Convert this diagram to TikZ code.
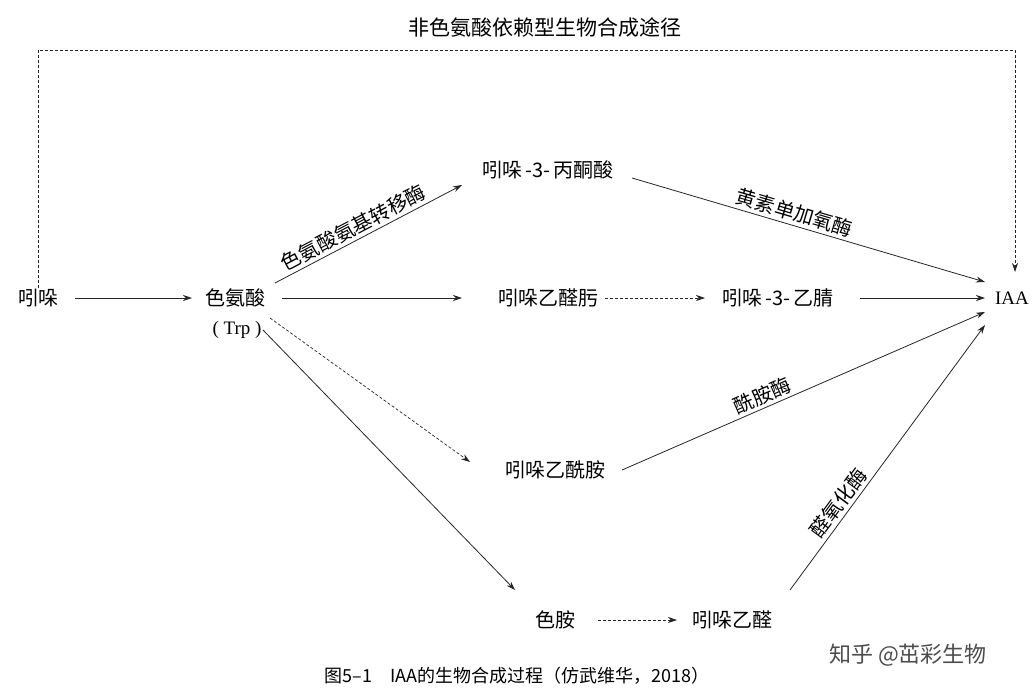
\documentclass[tikz,border=0pt]{standalone}
\usepackage{fontspec}
\setmainfont{Liberation Serif}
\newfontfamily\cjk{Noto Sans CJK SC}
\usetikzlibrary{arrows.meta}
\begin{document}
\begin{tikzpicture}[x=1pt,y=-1pt,
  lbl/.style={font=\cjk\fontsize{20}{20}\selectfont,inner sep=1pt},
  arr/.style={draw=black!85,line width=0.8pt,-{Stealth[length=9pt,width=6pt]}},
  darr/.style={arr,densely dashed,line width=0.7pt}]
\useasboundingbox (0,0) rectangle (1035,696);
\fill[white] (0,0) rectangle (1035,696);
\node[lbl,font=\cjk\fontsize{21}{21}\selectfont] (title) at (545,27) {非色氨酸依赖型生物合成途径};
\node[lbl] (ind) at (38,298) {吲哚};
\node[lbl] (trp) at (235,298) {色氨酸};
\node[font=\fontsize{19}{19}\selectfont] (trpl) at (237,330) {( Trp )};
\node[lbl] (ipa) at (548,170) {吲哚\,-3-\,丙酮酸};
\node[lbl] (iao) at (548,298) {吲哚乙醛肟};
\node[lbl] (ian) at (778,298) {吲哚\,-3-\,乙腈};
\node[font=\fontsize{19}{19}\selectfont] (iaa) at (1012,298) {IAA};
\node[lbl] (iam) at (555,470) {吲哚乙酰胺};
\node[lbl] (tam) at (555,620) {色胺};
\node[lbl] (iad) at (732,620) {吲哚乙醛};
\node[font=\cjk\fontsize{18}{18}\selectfont] (cap) at (517,676) {图5\textendash1\quad IAA的生物合成过程（仿武维华，2018）};
\node[font=\cjk\fontsize{22}{22}\selectfont,text=black!70] (wm) at (908,655) {知乎 @茁彩生物};
\coordinate (dtop) at (1015,50);
\draw[darr] (ind.north) -- (ind.north |- dtop) -- (dtop) -- (1015,272);
\draw[arr] (75,298) -- (192,298);
\draw[arr] (275,283) -- (462,185) node[lbl,pos=0.45,sloped,above=2pt] {色氨酸氨基转移酶};
\draw[arr] (282,298) -- (462,298);
\draw[darr] (605,298) -- (705,298);
\draw[arr] (860,298) -- (985,298);
\draw[arr] (632,178) -- (985,282) node[lbl,pos=0.45,sloped,above=2pt] {黄素单加氧酶};
\draw[darr] (270,318) -- (470,462);
\draw[arr] (622,470) -- (985,312) node[lbl,pos=0.4,sloped,above=2pt] {酰胺酶};
\draw[arr] (263,330) -- (515,590);
\draw[darr] (598,620) -- (677,620);
\draw[arr] (790,590) -- (985,325) node[lbl,pos=0.3,sloped,above=2pt] {醛氧化酶};
\end{tikzpicture}
\end{document}
